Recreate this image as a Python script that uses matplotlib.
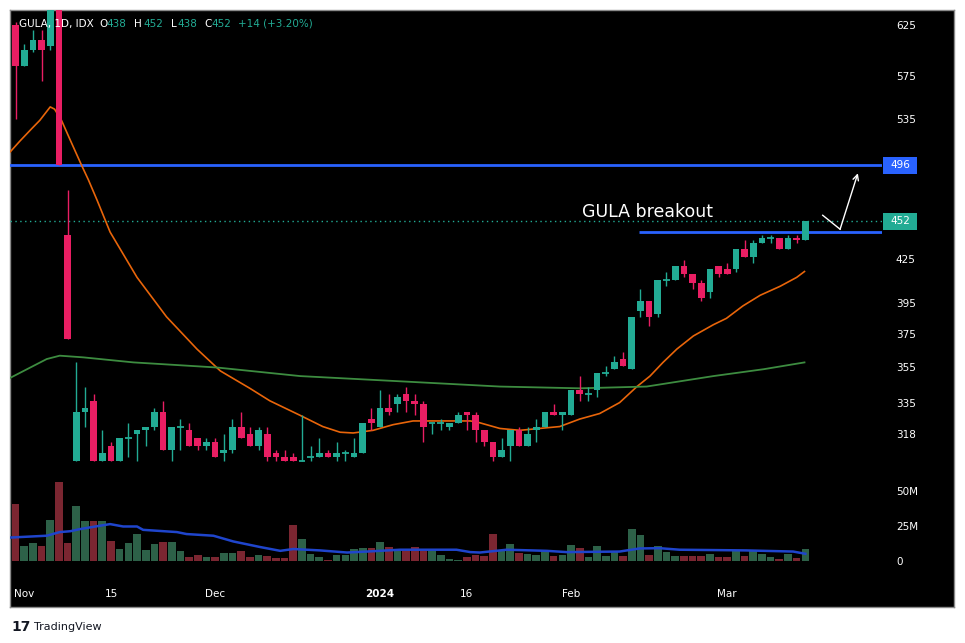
import numpy as np
import matplotlib
matplotlib.use("Agg")
import matplotlib.pyplot as plt
from matplotlib.patches import Rectangle
from matplotlib.ticker import NullLocator

W, H = 965, 643

# daily OHLC, GULA (IDX), 31 Oct 2023 .. 14 Mar 2024
opens = [625, 584, 600, 610, 604, 660, 442, 304, 330, 336, 304, 312, 304, 316, 318, 320,
         322, 330, 310, 322, 320, 316, 312, 314, 308, 310, 322, 318, 312, 318, 308, 306,
         306, 304, 306, 306, 308, 306, 308, 306, 308, 326, 322, 332, 334, 340, 336, 334,
         324, 324, 322, 324, 330, 328, 320, 314, 306, 312, 320, 312, 320, 322, 330, 328,
         328, 342, 340, 342, 352, 354, 360, 354, 390, 396, 388, 410, 410, 420, 414, 408,
         402, 420, 418, 418, 432, 426, 436, 440, 440, 432, 440, 438]
highs = [628, 606, 620, 620, 680, 660, 476, 358, 344, 340, 320, 314, 316, 324, 320, 322,
         332, 336, 322, 326, 324, 316, 316, 316, 318, 326, 330, 322, 322, 322, 310, 310,
         308, 328, 312, 316, 310, 314, 310, 316, 324, 332, 342, 340, 340, 344, 340, 336,
         324, 326, 324, 330, 330, 330, 320, 314, 316, 320, 322, 322, 326, 330, 334, 330,
         342, 350, 344, 352, 356, 362, 364, 386, 404, 396, 410, 416, 420, 424, 414, 410,
         418, 420, 422, 432, 438, 438, 442, 442, 440, 442, 442, 452]
lows = [535, 584, 598, 570, 600, 496, 372, 304, 322, 304, 304, 304, 304, 306, 304, 312,
        320, 310, 304, 310, 312, 310, 310, 306, 304, 308, 316, 312, 310, 304, 304, 304,
        304, 304, 304, 306, 306, 304, 304, 306, 308, 320, 322, 328, 330, 330, 328, 314,
        318, 320, 320, 324, 320, 314, 312, 304, 306, 304, 312, 312, 314, 322, 328, 320,
        328, 336, 336, 338, 350, 354, 356, 354, 386, 380, 386, 406, 410, 412, 404, 396,
        398, 412, 414, 416, 426, 422, 436, 436, 432, 432, 436, 438]
closes = [584, 600, 610, 600, 660, 496, 372, 330, 332, 304, 308, 304, 316, 316, 320, 322,
          330, 310, 322, 322, 312, 312, 314, 306, 310, 322, 316, 312, 320, 306, 306, 304,
          304, 304, 306, 308, 306, 308, 308, 308, 324, 324, 332, 330, 338, 336, 334, 322,
          324, 324, 324, 328, 328, 320, 314, 306, 310, 320, 312, 318, 322, 330, 328, 330,
          342, 340, 340, 352, 352, 358, 356, 386, 396, 386, 410, 410, 420, 414, 408, 398,
          418, 414, 414, 432, 426, 436, 440, 440, 432, 440, 438, 452]
volumes = [41.2, 11.2, 13.3, 11.2, 29.8, 56.9, 13.3, 39.8, 29.1, 29.1, 29.1, 14.8, 9.1, 13.3,
           19.8, 8.4, 12.6, 14.1, 14.1, 7.6, 3.4, 4.8, 3.4, 3.4, 6.2, 6.2, 7.4, 3.4, 4.8, 4.1,
           2.6, 2.6, 26.2, 16.2, 5.5, 3.4, 1.2, 4.8, 4.8, 9.1, 9.8, 9.8, 14.1, 10.5, 7.6, 8.4,
           10.5, 8.4, 8.4, 4.8, 2.0, 1.2, 3.4, 4.8, 4.1, 19.8, 7.6, 12.6, 6.2, 5.5, 4.8, 7.6,
           4.1, 4.8, 11.9, 9.8, 3.4, 11.2, 4.1, 7.1, 4.1, 23.4, 19.1, 4.8, 11.2, 7.1, 4.1, 4.1,
           4.1, 4.1, 5.5, 3.4, 3.4, 8.4, 4.1, 7.6, 5.5, 3.4, 2.0, 5.5, 2.6, 9.1]

date_pos = [1, 11, 23, 42, 52, 64, 82]
date_labels = ["Nov", "15", "Dec", "2024", "16", "Feb", "Mar"]
price_ticks = [318, 335, 355, 375, 395, 425, 535, 575, 625]
vol_ticks = [0, 25, 50]
vol_tick_labels = ["0", "25M", "50M"]

# moving averages (bar index, value)
ma_fast_x = [-0.6, 0.5, 1.9, 2.8, 4.0, 4.5, 5.3, 6.3, 7.6, 8.4, 9.4, 10.9, 14.0, 17.4, 20.9,
             23.6, 27.0, 29.3, 32.8, 35.4, 37.4, 38.9, 41.2, 43.5, 45.8, 48.9, 52.4, 53.5,
             55.8, 58.1, 60.4, 62.7, 65.0, 67.3, 69.6, 71.6, 73.1, 74.6, 76.2, 78.1, 80.4,
             81.9, 83.8, 85.8, 88.1, 90.0, 90.9]
ma_fast = [507, 516, 527, 534, 546, 544, 534, 517, 496, 484, 468, 444, 412, 386, 366, 353,
           343, 336, 328, 322, 319, 318.6, 320, 323, 325, 325, 325, 324, 321, 320, 321, 322,
           326, 329, 335, 344, 350, 358, 366, 374, 381, 385, 393, 400, 406, 412, 416]
ma_slow_x = [-0.6, 3.6, 5.1, 7.8, 13.6, 23.2, 32.8, 44.3, 55.8, 65.0, 72.7, 80.4, 86.2, 90.9]
ma_slow = [349, 360, 362, 361, 358, 355, 350, 347, 344, 343, 344, 350, 354, 358]
vol_ma_x = [-0.6, 3.6, 5.1, 6.3, 7.4, 9.7, 10.9, 12.4, 14.0, 14.7, 18.6, 19.7, 22.8, 25.1,
            28.2, 30.5, 32.0, 35.1, 38.2, 40.5, 44.3, 50.8, 52.4, 53.5, 56.6, 61.2, 63.5,
            69.6, 71.9, 74.2, 76.5, 84.2, 89.6, 91.0]
vol_ma = [17.1, 18.4, 21.0, 21.6, 23.1, 25.5, 26.7, 25.0, 25.0, 22.6, 21.0, 19.6, 18.4, 14.3,
          10.3, 7.6, 8.9, 7.9, 6.4, 7.1, 8.4, 8.4, 6.7, 6.4, 8.4, 7.6, 6.7, 7.1, 9.3, 9.5,
          8.4, 7.9, 7.1, 5.5]

resistance = 496
breakout_level = 444
breakout_start = 71.8
arrow_x = [93.0, 95.0, 97.05]
arrow_y = [456.5, 446.1, 489.3]

UP, DOWN = "#22ab94", "#e91e63"
VUP, VDOWN = "#2d6148", "#7b2631"
BLUE = "#2962ff"


def fx(x):
    return x / W


def fy(y):
    return 1 - y / H


fig = plt.figure(figsize=(W / 100, H / 100), dpi=100, facecolor="white")

bg = fig.add_axes([fx(10), fy(607), (954 - 10) / W, (607 - 10) / H])
bg.set_facecolor("black")
bg.set_xticks([])
bg.set_yticks([])
for s in bg.spines.values():
    s.set_color("#8a8a8a")
    s.set_linewidth(1)

xlim = (-0.634, 99.83)

ax = fig.add_axes([fx(10), fy(470), (882 - 10) / W, (470 - 10) / H])
ax.patch.set_alpha(0)
for s in ax.spines.values():
    s.set_visible(False)
ax.set_yscale("log")
ax.set_ylim(299.7, 640.8)
ax.set_xlim(*xlim)
ax.yaxis.set_minor_locator(NullLocator())
ax.set_yticks(price_ticks, [str(t) for t in price_ticks])
ax.yaxis.tick_right()
ax.tick_params(axis="y", length=0, pad=10, labelcolor="white", labelsize=7.5)
ax.tick_params(axis="x", bottom=False, labelbottom=False)

o = np.array(opens, float)
c = np.array(closes, float)
idx = np.arange(len(o))
up = c >= o
cols = np.where(up, UP, DOWN)

# levels
ax.axhline(resistance, color=BLUE, lw=2, zorder=1)
ax.hlines(breakout_level, breakout_start, xlim[1], color=BLUE, lw=2, zorder=1)
ax.axhline(closes[-1], color=UP, lw=1, ls=(0, (1, 2.5)), zorder=1)

# moving averages
ax.plot(ma_fast_x, ma_fast, color="#e8650a", lw=1.2, zorder=2)
ax.plot(ma_slow_x, ma_slow, color="#3d8c40", lw=1.3, zorder=2)

# candles
ax.vlines(idx, lows, highs, colors=cols, lw=1, zorder=3)
body_lo = np.minimum(o, c)
body_h = np.abs(c - o)
ax.bar(idx, body_h, bottom=body_lo, width=0.77, color=cols, zorder=4)
doji = body_h == 0
ax.hlines(o[doji], idx[doji] - 0.385, idx[doji] + 0.385, colors=cols[doji], lw=1.3, zorder=4)

# annotation
ax.text(65.3, 459, "GULA breakout", color="white", fontsize=12.5, va="center", ha="left")
ax.plot(arrow_x[:2], arrow_y[:2], color="white", lw=1)
ax.annotate("", xy=(arrow_x[2], arrow_y[2]), xytext=(arrow_x[1], arrow_y[1]),
            arrowprops=dict(arrowstyle="->", color="white", lw=1, shrinkA=0, shrinkB=0,
                            mutation_scale=10))

# price tags on the axis
fig.canvas.draw()
for val, colr in [(resistance, BLUE), (closes[-1], UP)]:
    yf = fig.transFigure.inverted().transform(ax.transData.transform((0, val)))[1]
    fig.add_artist(Rectangle((fx(883), yf - 8.5 / H), 34 / W, 17 / H, transform=fig.transFigure,
                             facecolor=colr, edgecolor="none"))
    fig.text(fx(900), yf, str(val), color="white", fontsize=7.5, ha="center", va="center")

# volume
axv = fig.add_axes([fx(10), fy(585), (882 - 10) / W, (585 - 480) / H])
axv.patch.set_alpha(0)
for s in axv.spines.values():
    s.set_visible(False)
axv.set_xlim(*xlim)
axv.set_ylim(-16.8, 58.2)
axv.bar(idx, volumes, width=0.88, color=np.where(up, VUP, VDOWN), zorder=2)
axv.plot(vol_ma_x, vol_ma, color="#1f45cc", lw=1.8, zorder=3)
axv.set_yticks(vol_ticks, vol_tick_labels)
axv.yaxis.tick_right()
axv.tick_params(axis="y", length=0, pad=10, labelcolor="white", labelsize=7.5)
axv.set_xticks(date_pos, date_labels)
axv.tick_params(axis="x", length=0, pad=3, labelcolor="white", labelsize=7.5)
for lab in axv.get_xticklabels():
    if lab.get_text() == "2024":
        lab.set_fontweight("bold")

# header
chg = closes[-1] - closes[-2]
pct = chg / closes[-2] * 100
header = [("GULA, 1D, IDX", 19, "white"), ("O", 99, "white"), (str(opens[-1]), 106, UP),
          ("H", 134, "white"), (str(highs[-1]), 143, UP), ("L", 171, "white"),
          (str(lows[-1]), 177, UP), ("C", 204, "white"), (str(closes[-1]), 211, UP),
          (f"{chg:+d} ({pct:+.2f}%)", 238, UP)]
for txt, xp, colr in header:
    fig.text(fx(xp), fy(24), txt, color=colr, fontsize=7.5, ha="left", va="center")

# footer
fig.text(fx(11), fy(627), "17", color="#131722", fontsize=10, fontweight="heavy",
         ha="left", va="center")
fig.text(fx(34), fy(627), "TradingView", color="#131722", fontsize=8, ha="left", va="center")

fig.savefig("out.png", dpi=100, facecolor="white")
